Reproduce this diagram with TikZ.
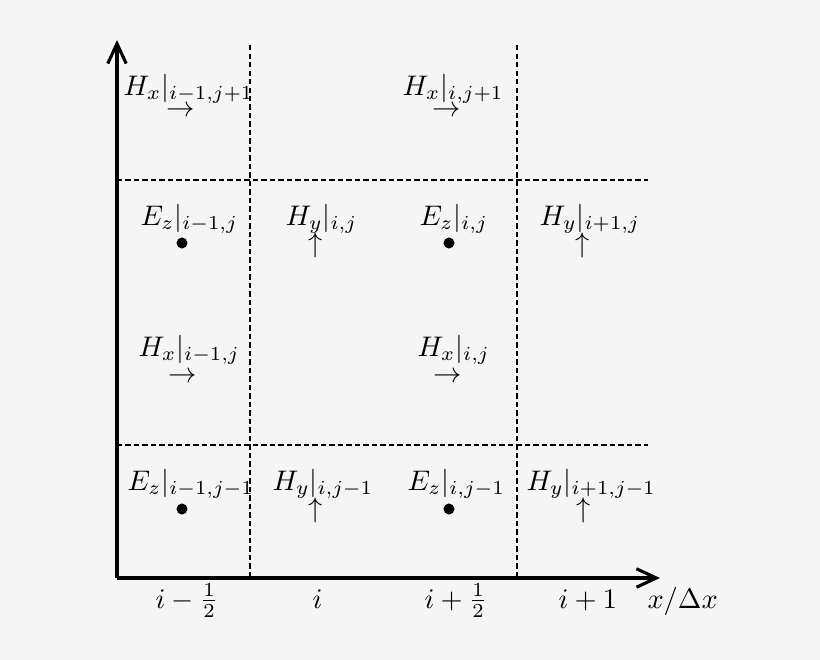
\documentclass[tikz,border=0pt]{standalone}
\usetikzlibrary{arrows.meta}
\definecolor{bgcol}{HTML}{F5F5F5}
\begin{document}
\begin{tikzpicture}[x=0.353pt,y=-0.353pt,
            field/.style={inner sep=0pt,anchor=base west},
            mark sym/.style={inner sep=0pt},
            grid line/.style={dash pattern=on 1.8pt off 1.2pt,line width=0.5pt},
            axis/.style={line width=1.1pt,-{Straight Barb[length=7pt,width=6.5pt,line width=1.1pt]}},
            ez dot/.style={circle,fill,inner sep=0pt,minimum size=3.9pt}]

        % Background
        \fill[bgcol] (0,0) rectangle (820,660);

        % Grid lines
        \draw[grid line] (250,45) -- (250,578);
        \draw[grid line] (517,45) -- (517,578);
        \draw[grid line] (117,180) -- (648,180);
        \draw[grid line] (117,445) -- (648,445);

        % Axes
        \coordinate (O) at (117,578);
        \coordinate (ytip) at (117,40);
        \coordinate (xtip) at (660,578);
        \draw[axis] (O) -- (ytip);
        \draw[axis] (O) -- (xtip);

        % Top row
        \node[field] (hx1) at (123,95) {$H_x|_{i-1,j+1}$};
        \node[mark sym] (hx1a) at (181,111) {$\rightarrow$};
        \node[field] (hx2) at (402,95) {$H_x|_{i,j+1}$};
        \node[mark sym] (hx2a) at (447,111) {$\rightarrow$};

        % Second row
        \node[field] (ez1) at (140,225) {$E_z|_{i-1,j}$};
        \node[ez dot] (ez1d) at (182,243) {};
        \node[field] (hy1) at (285,225) {$H_y|_{i,j}$};
        \node[mark sym] (hy1a) at (316,245) {$\uparrow$};
        \node[field] (ez2) at (419,225) {$E_z|_{i,j}$};
        \node[ez dot] (ez2d) at (449,243) {};
        \node[field] (hy2) at (539,225) {$H_y|_{i+1,j}$};
        \node[mark sym] (hy2a) at (583,245) {$\uparrow$};

        % Third row
        \node[field] (hx3) at (138,356) {$H_x|_{i-1,j}$};
        \node[mark sym] (hx3a) at (183,377) {$\rightarrow$};
        \node[field] (hx4) at (417,356) {$H_x|_{i,j}$};
        \node[mark sym] (hx4a) at (448,377) {$\rightarrow$};

        % Bottom row
        \node[field] (ez3) at (127,490) {$E_z|_{i-1,j-1}$};
        \node[ez dot] (ez3d) at (182,509) {};
        \node[field] (hy3) at (272,490) {$H_y|_{i,j-1}$};
        \node[mark sym] (hy3a) at (316,510) {$\uparrow$};
        \node[field] (ez4) at (407,490) {$E_z|_{i,j-1}$};
        \node[ez dot] (ez4d) at (449,509) {};
        \node[field] (hy4) at (526,490) {$H_y|_{i+1,j-1}$};
        \node[mark sym] (hy4a) at (584,510) {$\uparrow$};

        % Axis ticks
        \node[field] (t1) at (155,608) {$i-\frac{1}{2}$};
        \node[field] (t2) at (312,608) {$i$};
        \node[field] (t3) at (424,608) {$i+\frac{1}{2}$};
        \node[field] (t4) at (558,608) {$i+1$};
        \node[field] (xl) at (647,608) {$x/\Delta x$};

\end{tikzpicture}
\end{document}
